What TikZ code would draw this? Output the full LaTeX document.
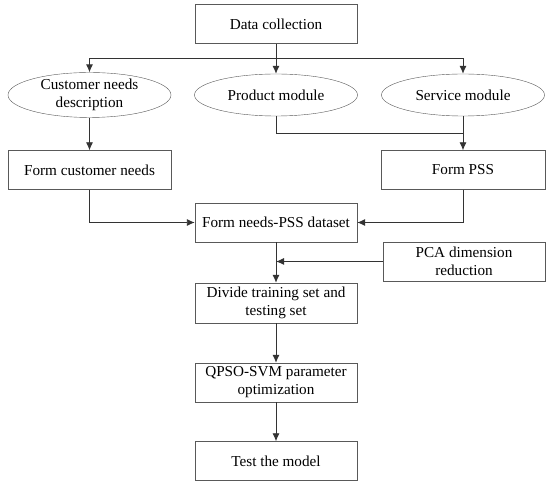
\documentclass[tikz,border=0pt]{standalone}
\usepackage{fontspec}
\setmainfont{Liberation Serif}
\usetikzlibrary{arrows.meta,shapes.geometric}
\tikzset{
    stepbox/.style={draw=black!65, fill=white, minimum width=162pt, minimum height=39pt, inner sep=1pt, align=center, font=\fontsize{15.2}{18}\selectfont},
    oval/.style={ellipse, draw=black!65, fill=white, minimum width=163pt, minimum height=42pt, inner sep=0pt, align=center, font=\fontsize{15.2}{18}\selectfont},
    link/.style={draw=black!80, line width=0.9pt},
    arrow/.style={link, -{Latex[length=8pt,width=7pt]}}
}
\begin{document}
\begin{tikzpicture}[x=1pt,y=-1pt]
            \useasboundingbox (0,0) rectangle (550,486);
            \node [stepbox] (data) at (276,24) {Data collection};
            \node [oval] (cust) at (89.5,95) {Customer needs\\description};
            \node [oval] (prod) at (276,95) {Product module};
            \node [oval] (serv) at (463,95) {Service module};
            \node [stepbox, minimum width=163pt] (fcn) at (89.5,170) {Form customer needs};
            \node [stepbox, minimum width=164pt] (fpss) at (463,170) {Form PSS};
            \node [stepbox] (ds) at (276,222.5) {Form needs-PSS dataset};
            \node [stepbox] (pca) at (464,261.5) {PCA dimension\\reduction};
            \node [stepbox, minimum height=40pt] (div) at (276,303) {Divide training set and\\testing set};
            \node [stepbox] (qpso) at (276,382.5) {QPSO-SVM parameter\\optimization};
            \node [stepbox] (test) at (276,461) {Test the model};
            \coordinate (br) at (276,58);
            \coordinate (pj) at (463,133);
            \draw [link] (data) -- (br);
            \draw [arrow] (br) -| (cust);
            \draw [arrow] (br) -- (prod);
            \draw [arrow] (br) -| (serv);
            \draw [arrow] (cust) -- (fcn);
            \draw [link] (prod) |- (pj);
            \draw [arrow] (serv) -- (fpss);
            \draw [arrow] (fcn) |- (ds);
            \draw [arrow] (fpss) |- (ds);
            \draw [arrow] (ds) -- (div);
            \draw [arrow] (pca.west) -- (pca.west -| ds);
            \draw [arrow] (div) -- (qpso);
            \draw [arrow] (qpso) -- (test);
        \end{tikzpicture}
\end{document}
